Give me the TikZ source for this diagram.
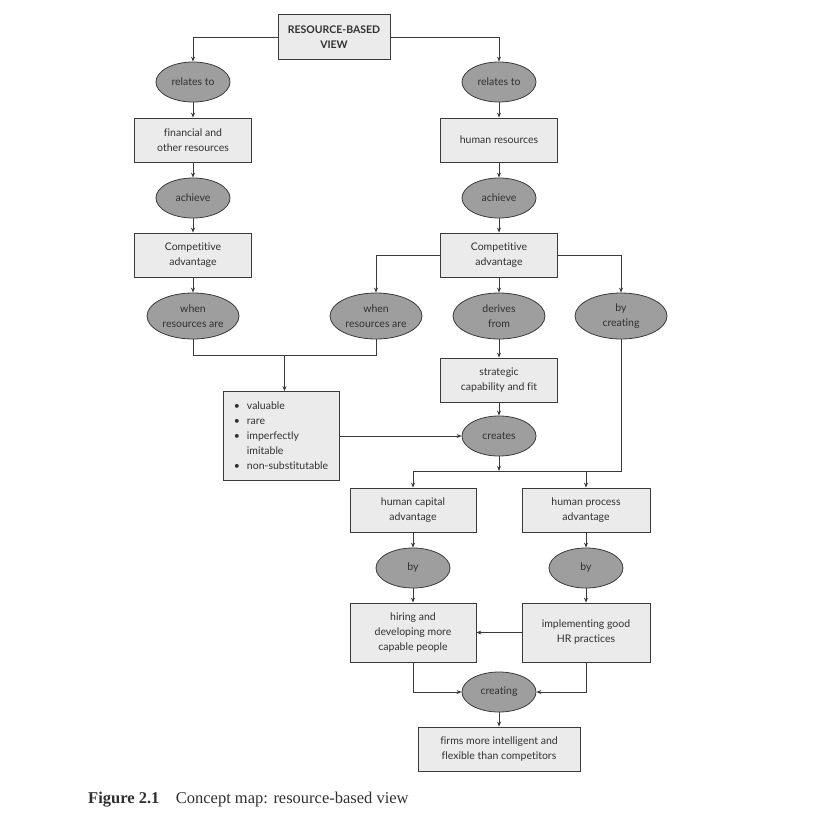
\documentclass[tikz,border=0pt]{standalone}
\usepackage{fontspec}
\setmainfont{Liberation Serif}
\newfontfamily\mapfont[Ligatures=NoCommon]{Lato}
\usetikzlibrary{arrows.meta,shapes.geometric}
\definecolor{boxgray}{HTML}{EBEBEB}
\definecolor{ovalgray}{HTML}{9E9E9E}
\definecolor{linegray}{HTML}{3A3A3A}
\definecolor{textgray}{HTML}{303030}
\begin{document}
\begin{tikzpicture}[x=1pt,y=-1pt,
  box/.style={draw=linegray,fill=boxgray,line width=0.8pt,align=center,text=textgray,
    font=\mapfont\fontsize{10.5}{15}\selectfont,minimum width=117pt,minimum height=44pt,inner sep=2pt},
  oval/.style={ellipse,draw=linegray,fill=ovalgray,line width=0.8pt,align=center,text=textgray,
    font=\mapfont\fontsize{10.5}{15}\selectfont,minimum width=74pt,minimum height=40pt,inner sep=0pt},
  bigoval/.style={oval,minimum width=92pt,minimum height=46pt},
  ln/.style={draw=linegray,line width=0.8pt},
  arr/.style={ln,-{Stealth[length=5pt,width=4pt]}}]
\useasboundingbox (0,0) rectangle (819,817);
\node[box,font=\mapfont\bfseries\fontsize{10.5}{15}\selectfont,minimum width=112pt,minimum height=45pt] (rbv) at (334,37) {RESOURCE-BASED\\VIEW};
\node[oval] (rel1) at (193,82) {relates to};
\node[oval] (rel2) at (499,82) {relates to};
\node[box] (fin) at (193,140) {financial and\\other resources};
\node[box] (hr) at (499,140) {human resources};
\node[oval] (ach1) at (193,198) {achieve};
\node[oval] (ach2) at (499,198) {achieve};
\node[box] (ca1) at (193,255) {Competitive\\advantage};
\node[box] (ca2) at (499,255) {Competitive\\advantage};
\node[bigoval] (when1) at (193,316) {when\\resources are};
\node[bigoval] (when2) at (376,316) {when\\resources are};
\node[bigoval] (der) at (499,316) {derives\\from};
\node[bigoval] (bycr) at (621,316) {by\\creating};
\node[box,minimum width=116pt,minimum height=89pt] (vals) at (281,436) {\begin{tabular}{@{}l@{\hspace{7pt}}l@{}}
\textbullet & valuable\\ \textbullet & rare\\ \textbullet & imperfectly\\ & imitable\\ \textbullet & non-substitutable\end{tabular}};
\node[box] (strat) at (499,380) {strategic\\capability and fit};
\node[oval] (cre) at (499,436) {creates};
\node[box,minimum width=126pt] (hca) at (413,510) {human capital\\advantage};
\node[box,minimum width=128pt] (hpa) at (586,510) {human process\\advantage};
\node[oval] (by1) at (413,568) {by};
\node[oval] (by2) at (586,568) {by};
\node[box,minimum width=126pt,minimum height=59pt] (hir) at (413,632.5) {hiring and\\developing more\\capable people};
\node[box,minimum width=128pt,minimum height=59pt] (imp) at (586,632.5) {implementing good\\HR practices};
\node[oval] (cring) at (499,692) {creating};
\node[box,minimum width=162pt] (firms) at (499,749) {firms more intelligent and\\flexible than competitors};
\coordinate (j1) at (284.5,355);
\coordinate (j2) at (499,471);
\draw[arr] (rbv.west) -| (rel1.north);
\draw[arr] (rbv.east) -| (rel2.north);
\draw[arr] (rel1) -- (fin);
\draw[arr] (fin) -- (ach1);
\draw[arr] (ach1) -- (ca1);
\draw[arr] (ca1) -- (when1);
\draw[arr] (rel2) -- (hr);
\draw[arr] (hr) -- (ach2);
\draw[arr] (ach2) -- (ca2);
\draw[arr] (ca2.west) -| (when2.north);
\draw[arr] (ca2) -- (der);
\draw[arr] (ca2.east) -| (bycr.north);
\draw[ln] (when1.south) |- (when2.south |- j1) -- (when2.south);
\draw[arr] (j1) -- (j1 |- vals.north);
\draw[arr] (der) -- (strat);
\draw[arr] (strat) -- (cre);
\draw[arr] (vals.east) -- (cre.west);
\draw[arr] (cre) -- (j2);
\draw[arr] (bycr.south) |- (hca.north |- j2) -- (hca.north);
\draw[arr] (hpa.north |- j2) -- (hpa.north);
\draw[arr] (hca) -- (by1);
\draw[arr] (by1) -- (hir);
\draw[arr] (hpa) -- (by2);
\draw[arr] (by2) -- (imp);
\draw[arr] (imp.west) -- (hir.east);
\draw[arr] (hir.south) |- (cring.west);
\draw[arr] (imp.south) |- (cring.east);
\draw[arr] (cring) -- (firms);
\node[anchor=base west,inner sep=0pt,font=\fontsize{16.5}{18}\selectfont,text=textgray] (cap) at (88,803) {\textbf{Figure 2.1}\hspace{1em}Concept map: resource-based view};
\end{tikzpicture}
\end{document}
